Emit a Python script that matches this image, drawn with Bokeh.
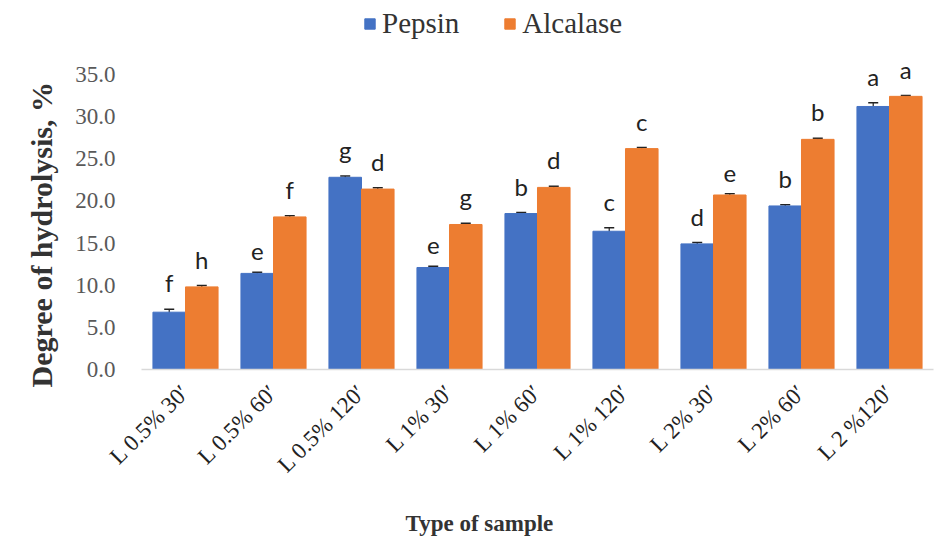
import math
from bokeh.plotting import figure
from bokeh.models import (ColumnDataSource, FactorRange, Range1d, Whisker, TeeHead, Legend,
                          LegendItem, FixedTicker, PrintfTickFormatter, Title)
from bokeh.transform import dodge
from bokeh.core.properties import value
from bokeh.embed import file_html
from bokeh.resources import INLINE

categories = ["L 0.5% 30′", "L 0.5% 60′", "L 0.5% 120′", "L 1% 30′", "L 1% 60′",
              "L 1% 120′", "L 2% 30′", "L 2% 60′", "L 2 %120′"]
pepsin = [6.8, 11.4, 22.8, 12.1, 18.5, 16.4, 14.9, 19.4, 31.2]
pepsin_err = [0.35, 0.15, 0.15, 0.15, 0.12, 0.4, 0.15, 0.15, 0.45]
alcalase = [9.8, 18.1, 21.4, 17.2, 21.6, 26.2, 20.7, 27.3, 32.4]
alcalase_err = [0.15, 0.15, 0.15, 0.15, 0.15, 0.12, 0.15, 0.12, 0.1]
pepsin_letters = ["f", "e", "g", "e", "b", "c", "d", "b", "a"]
alcalase_letters = ["h", "f", "d", "g", "d", "c", "e", "b", "a"]
y_ticks = [0, 5, 10, 15, 20, 25, 30, 35]

BLUE = "#4472C4"
ORANGE = "#ED7D31"

src = ColumnDataSource(dict(
    cat=categories,
    pep=pepsin, pep_up=[v + e for v, e in zip(pepsin, pepsin_err)],
    pep_lo=[v - e for v, e in zip(pepsin, pepsin_err)],
    alc=alcalase, alc_up=[v + e for v, e in zip(alcalase, alcalase_err)],
    alc_lo=[v - e for v, e in zip(alcalase, alcalase_err)],
    pep_let=pepsin_letters, alc_let=alcalase_letters,
))

p = figure(width=950, height=559, x_range=FactorRange(*categories, range_padding=0),
           y_range=Range1d(0, 43.77), output_backend="svg", toolbar_location=None,
           min_border_left=141, min_border_right=17, min_border_top=0, min_border_bottom=190)
p.outline_line_color = None
p.xgrid.grid_line_color = None
p.ygrid.grid_line_color = None

w = 0.37
off = 0.185
rb = p.vbar(x=dodge("cat", -off, range=p.x_range), top="pep", width=w, source=src,
            fill_color=BLUE, line_color=BLUE)
ro = p.vbar(x=dodge("cat", off, range=p.x_range), top="alc", width=w, source=src,
            fill_color=ORANGE, line_color=ORANGE)

for o, up, lo in [(-off, "pep_up", "pep_lo"), (off, "alc_up", "alc_lo")]:
    wh = Whisker(base=dodge("cat", o, range=p.x_range), upper=up, lower=lo, source=src,
                 line_color="#222222", line_width=1.2,
                 upper_head=TeeHead(size=10, line_color="#222222", line_width=1.5),
                 lower_head=TeeHead(size=10, line_color="#222222", line_width=1.5))
    p.add_layout(wh)

for o, y, t in [(-off, "pep_up", "pep_let"), (off, "alc_up", "alc_let")]:
    p.text(x=dodge("cat", o, range=p.x_range), y=y, text=t, source=src,
           text_font=value("Lato"), text_font_size="24px", text_color="#222222",
           text_align="center", text_baseline="bottom", y_offset=-12)

legend = Legend(items=[LegendItem(label="Pepsin", renderers=[rb]),
                       LegendItem(label="Alcalase", renderers=[ro])],
                location=(222, 329), orientation="horizontal",
                label_text_font="Liberation Serif", label_text_font_size="29px",
                label_text_color="#333333", glyph_width=13, glyph_height=13,
                spacing=44, padding=0, margin=0, label_standoff=6,
                background_fill_alpha=0, border_line_alpha=0)
p.add_layout(legend)

p.yaxis.ticker = FixedTicker(ticks=y_ticks)
p.yaxis.formatter = PrintfTickFormatter(format="%.1f")
p.yaxis.axis_line_color = None
p.yaxis.major_tick_line_color = None
p.yaxis.minor_tick_line_color = None
p.yaxis.major_label_text_font = "Liberation Serif"
p.yaxis.major_label_text_font_size = "23px"
p.yaxis.major_label_text_color = "#595959"
p.yaxis.major_label_standoff = 20

yt = Title(text="Degree of hydrolysis, %", align="left", offset=-18, standoff=30,
           text_font="Liberation Serif", text_font_style="bold", text_font_size="30px",
           text_color="#333333")
p.add_layout(yt, "left")

p.xaxis.axis_line_color = "#D9D9D9"
p.xaxis.axis_line_width = 1.5
p.xaxis.major_tick_line_color = None
p.xaxis.minor_tick_line_color = None
p.xaxis.major_label_orientation = math.pi / 4
p.xaxis.major_label_text_font = "Liberation Serif"
p.xaxis.major_label_text_font_size = "23px"
p.xaxis.major_label_text_color = "#222222"
p.xaxis.major_label_standoff = 13

xt = Title(text="Type of sample", align="left", offset=264, standoff=38,
           text_font="Liberation Serif", text_font_style="bold", text_font_size="23px",
           text_color="#333333")
p.add_layout(xt, "below")

open("out.html", "w").write(file_html(p, INLINE))
